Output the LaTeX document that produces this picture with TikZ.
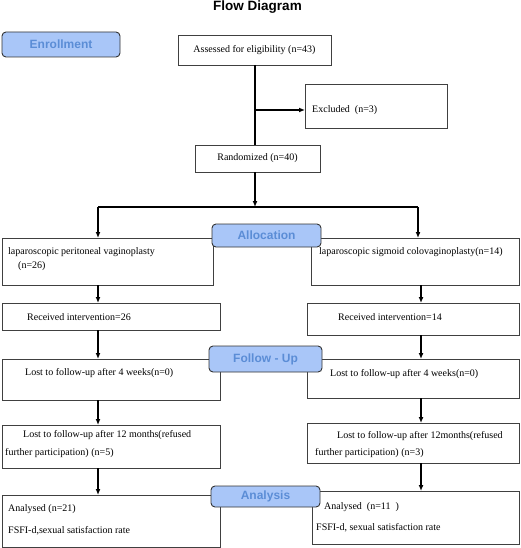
\documentclass[tikz,border=0pt]{standalone}
\usepackage{fontspec}
\setmainfont{Liberation Serif}
\newfontfamily\labfont{Liberation Sans}
\usetikzlibrary{arrows.meta}
\definecolor{labfill}{HTML}{A9C6F8}
\definecolor{labtext}{HTML}{5B8DD6}
\definecolor{boxline}{HTML}{404040}
\tikzset{
  box/.style={draw=boxline, line width=0.9pt, inner sep=0pt, outer sep=0pt, anchor=north west},
  stagelab/.style={draw=black!80, line width=0.9pt, fill=labfill, rounded corners=4pt, inner sep=0pt, outer sep=0pt, anchor=north west, font=\labfont\bfseries\fontsize{12}{14}\selectfont, text=labtext},
  txt/.style={anchor=west, inner sep=0pt, font=\fontsize{10}{12}\selectfont},
  conn/.style={draw=black, line width=1.2pt},
  arr/.style={conn, -{Latex[length=6pt,width=5pt]}},
}
\begin{document}
\begin{tikzpicture}[x=1pt,y=-1pt]
\useasboundingbox (0,0) rectangle (521,548);
% title
\node[inner sep=0pt, font=\labfont\bfseries\fontsize{13.5}{15}\selectfont] (title) at (257.5,7) {Flow Diagram};
% boxes
\node[box, minimum width=153pt, minimum height=30pt] (assess) at (178,35) {};
\node[box, minimum width=142pt, minimum height=44pt] (excl) at (305,84) {};
\node[box, minimum width=125pt, minimum height=27pt] (rand) at (195,145) {};
\node[box, minimum width=211pt, minimum height=47pt] (L1) at (2,238) {};
\node[box, minimum width=208pt, minimum height=47pt] (R1) at (311,238) {};
\node[box, minimum width=218pt, minimum height=27pt] (L2) at (2,303) {};
\node[box, minimum width=212pt, minimum height=32pt] (R2) at (307,303) {};
\node[box, minimum width=218pt, minimum height=41pt] (L3) at (2,359) {};
\node[box, minimum width=212pt, minimum height=39pt] (R3) at (307,359) {};
\node[box, minimum width=218pt, minimum height=43pt] (L4) at (2,425) {};
\node[box, minimum width=212pt, minimum height=40pt] (R4) at (307,423) {};
\node[box, minimum width=218pt, minimum height=52pt] (L5) at (2,495) {};
\node[box, minimum width=207pt, minimum height=53pt] (R5) at (312,491) {};
% texts
\node[inner sep=0pt, font=\fontsize{10}{12}\selectfont] (tassess) at (assess.center) {Assessed for eligibility (n=43)};
\node[txt] (texcl) at (312,110) {Excluded\ \ (n=3)};
\node[inner sep=0pt, font=\fontsize{10}{12}\selectfont] (trand) at (rand.center) {Randomized (n=40)};
\node[txt] (tL1a) at (8,252) {laparoscopic peritoneal vaginoplasty};
\node[txt] (tL1b) at (18,266) {(n=26)};
\node[txt] (tR1) at (319,252) {laparoscopic sigmoid colovaginoplasty(n=14)};
\node[txt] (tL2) at (27,317) {Received intervention=26};
\node[txt] (tR2) at (338,317) {Received intervention=14};
\node[txt] (tL3) at (25,373) {Lost to follow-up after 4 weeks(n=0)};
\node[txt] (tR3) at (330,374) {Lost to follow-up after 4 weeks(n=0)};
\node[txt] (tL4a) at (23,435) {Lost to follow-up after 12 months(refused};
\node[txt] (tL4b) at (5,453) {further participation) (n=5)};
\node[txt] (tR4a) at (337,436) {Lost to follow-up after 12months(refused};
\node[txt] (tR4b) at (315,453) {further participation) (n=3)};
\node[txt] (tL5a) at (8,509) {Analysed (n=21)};
\node[txt] (tL5b) at (8,531) {FSFI-d,sexual satisfaction rate};
\node[txt] (tR5a) at (324,507) {Analysed\ \ (n=11\ \ )};
\node[txt] (tR5b) at (316,528) {FSFI-d, sexual satisfaction rate};
% stage labels
\node[stagelab, minimum width=118pt, minimum height=25pt] (enroll) at (2,32) {Enrollment};
\node[stagelab, minimum width=109pt, minimum height=23pt] (alloc) at (212,224) {Allocation};
\node[stagelab, minimum width=113pt, minimum height=26pt] (follow) at (209,346) {Follow - Up};
\node[stagelab, minimum width=109pt, minimum height=21pt] (anal) at (211,486) {Analysis};
% connectors
\coordinate (mcol) at (255,0);
\coordinate (exj) at (255,110);
\coordinate (split) at (255,207);
\coordinate (lsplit) at (98,207);
\coordinate (rsplit) at (418,207);
\coordinate (lcol) at (98,0);
\coordinate (rcol) at (421,0);
\draw[conn] (assess.south -| mcol) -- (rand.north -| mcol);
\draw[arr] (exj) -- (exj -| excl.west);
\draw[arr] (rand.south -| mcol) -- (split);
\draw[conn] (lsplit) -- (rsplit);
\draw[arr] (lsplit) -- (lsplit |- L1.north);
\draw[arr] (rsplit) -- (rsplit |- R1.north);
\draw[arr] (L1.south -| lcol) -- (L2.north -| lcol);
\draw[arr] (L2.south -| lcol) -- (L3.north -| lcol);
\draw[arr] (L3.south -| lcol) -- (L4.north -| lcol);
\draw[arr] (L4.south -| lcol) -- (L5.north -| lcol);
\draw[arr] (R1.south -| rcol) -- (R2.north -| rcol);
\draw[arr] (R2.south -| rcol) -- (R3.north -| rcol);
\draw[arr] (R3.south -| rcol) -- (R4.north -| rcol);
\draw[arr] (R4.south -| rcol) -- (R5.north -| rcol);
\end{tikzpicture}
\end{document}
